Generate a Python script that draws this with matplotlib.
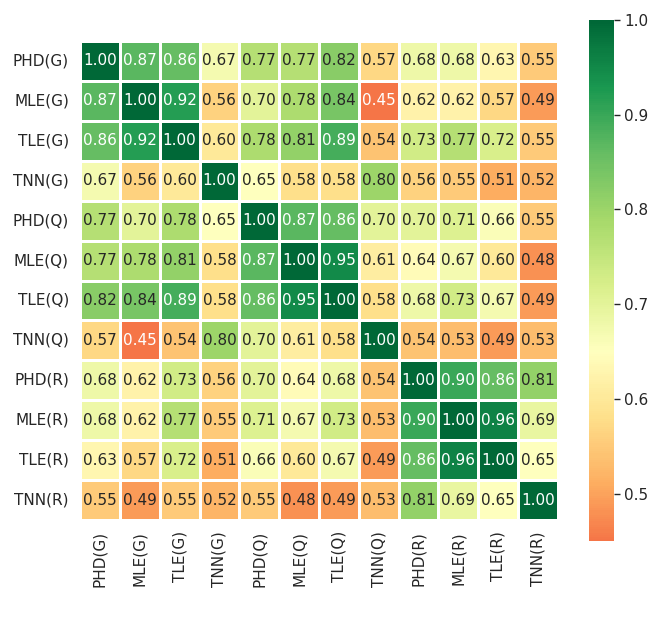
import numpy as np
import matplotlib
matplotlib.use('Agg')
import matplotlib.pyplot as plt
import seaborn as sns

labels = ['PHD(G)', 'MLE(G)', 'TLE(G)', 'TNN(G)',
          'PHD(Q)', 'MLE(Q)', 'TLE(Q)', 'TNN(Q)',
          'PHD(R)', 'MLE(R)', 'TLE(R)', 'TNN(R)']

corr = np.array([
    [1.00, 0.87, 0.86, 0.67, 0.77, 0.77, 0.82, 0.57, 0.68, 0.68, 0.63, 0.55],
    [0.87, 1.00, 0.92, 0.56, 0.70, 0.78, 0.84, 0.45, 0.62, 0.62, 0.57, 0.49],
    [0.86, 0.92, 1.00, 0.60, 0.78, 0.81, 0.89, 0.54, 0.73, 0.77, 0.72, 0.55],
    [0.67, 0.56, 0.60, 1.00, 0.65, 0.58, 0.58, 0.80, 0.56, 0.55, 0.51, 0.52],
    [0.77, 0.70, 0.78, 0.65, 1.00, 0.87, 0.86, 0.70, 0.70, 0.71, 0.66, 0.55],
    [0.77, 0.78, 0.81, 0.58, 0.87, 1.00, 0.95, 0.61, 0.64, 0.67, 0.60, 0.48],
    [0.82, 0.84, 0.89, 0.58, 0.86, 0.95, 1.00, 0.58, 0.68, 0.73, 0.67, 0.49],
    [0.57, 0.45, 0.54, 0.80, 0.70, 0.61, 0.58, 1.00, 0.54, 0.53, 0.49, 0.53],
    [0.68, 0.62, 0.73, 0.56, 0.70, 0.64, 0.68, 0.54, 1.00, 0.90, 0.86, 0.81],
    [0.68, 0.62, 0.77, 0.55, 0.71, 0.67, 0.73, 0.53, 0.90, 1.00, 0.96, 0.69],
    [0.63, 0.57, 0.72, 0.51, 0.66, 0.60, 0.67, 0.49, 0.86, 0.96, 1.00, 0.65],
    [0.55, 0.49, 0.55, 0.52, 0.55, 0.48, 0.49, 0.53, 0.81, 0.69, 0.65, 1.00],
])

sns.set_style('white')
plt.rcParams['font.family'] = ['DejaVu Sans']

fig = plt.figure(figsize=(6.63, 6.19), dpi=100)
W, H = 663, 619
ax = fig.add_axes([80 / W, (H - 520) / H, 478 / W, 479 / H])
cax = fig.add_axes([589 / W, (H - 541) / H, 25 / W, 521 / H])

sns.heatmap(corr, ax=ax, cbar_ax=cax, cmap='RdYlGn', center=0.65,
            vmin=0.45, vmax=1.0, annot=True, fmt='.2f',
            annot_kws={'size': 11}, linewidths=1, linecolor='white',
            xticklabels=labels, yticklabels=labels)

ax.tick_params(axis='both', length=0, labelsize=11, colors='#262626', pad=8)
ax.set_xticklabels(labels, rotation=90)
ax.set_yticklabels(labels, rotation=0)

cax.tick_params(labelsize=11, colors='#262626', length=4, width=1, left=False, right=True)
cax.set_yticks([0.5, 0.6, 0.7, 0.8, 0.9, 1.0])
for s in cax.spines.values():
    s.set_visible(False)

fig.savefig('out.png', dpi=100)
